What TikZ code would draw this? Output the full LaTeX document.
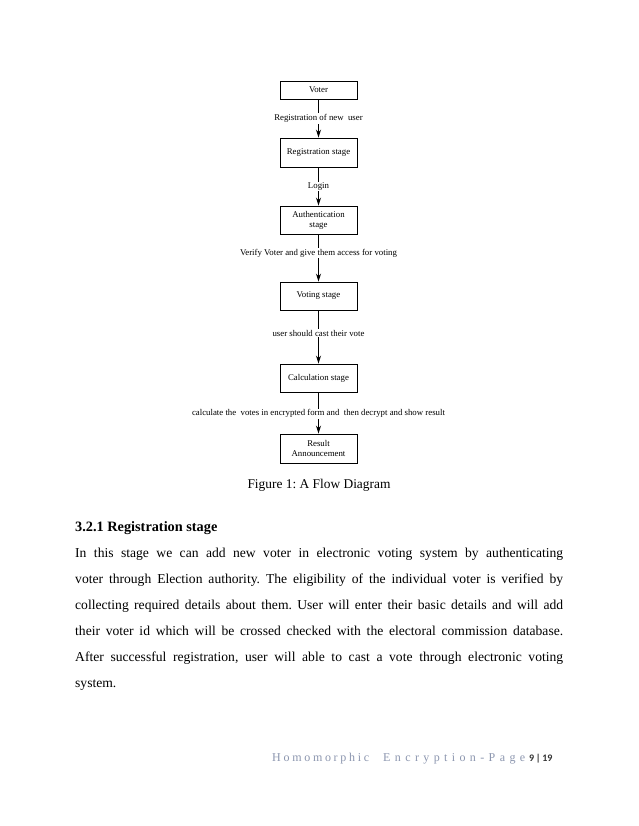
\documentclass[tikz,border=0pt]{standalone}
\usepackage{fontspec}
\setmainfont{Liberation Serif}
\newfontfamily\flowfont{Liberation Serif}
\newfontfamily\pagefont{Carlito}
\usetikzlibrary{arrows.meta}
\definecolor{footgray}{RGB}{140,150,175}
\newcommand\jline[1]{\hbox to 488pt{#1}}
\frenchspacing
\begin{document}
\begin{tikzpicture}[x=1pt,y=-1pt,
  stagebox/.style={draw,line width=0.9pt,minimum width=77pt,inner sep=1pt,
    font=\flowfont\fontsize{8.8}{10}\selectfont,align=center},
  flowlbl/.style={fill=white,inner sep=1pt,font=\flowfont\fontsize{8.8}{10}\selectfont},
  flowarrow/.style={line width=0.9pt,-{Stealth[length=8pt,width=5pt]}},
  body/.style={anchor=base west,inner sep=0pt,font=\fontsize{13.6}{16}\selectfont}]
\useasboundingbox (0,0) rectangle (638,826);
\fill[white] (0,0) rectangle (638,826);

% flow diagram
\node[stagebox,minimum height=18pt] (voter) at (318.5,90) {Voter};
\node[stagebox,minimum height=29pt] (reg) at (318.5,152.5) {Registration stage};
\node[stagebox,minimum height=28pt] (auth) at (318.5,220) {Authentication\\stage};
\node[stagebox,minimum height=28pt] (vote) at (318.5,296) {Voting stage};
\node[stagebox,minimum height=28pt] (calc) at (318.5,378) {Calculation stage};
\node[stagebox,minimum height=29pt] (res) at (318.5,448.5) {Result\\Announcement};

\draw[flowarrow] (voter) -- node[flowlbl,pos=0.5] (l1) {Registration of new\ \ user} (reg);
\draw[flowarrow] (reg) -- node[flowlbl,pos=0.5] (l2) {Login} (auth);
\draw[flowarrow] (auth) -- node[flowlbl,pos=0.4] (l3) {Verify Voter and give them access for voting} (vote);
\draw[flowarrow] (vote) -- node[flowlbl,pos=0.43] (l4) {user should cast their vote} (calc);
\draw[flowarrow] (calc) -- node[flowlbl,pos=0.52] (l5) {calculate the\ \ votes in encrypted form and\ \ then decrypt and show result} (res);

% caption
\node[anchor=base,inner sep=0pt,font=\fontsize{13.4}{16}\selectfont] (cap) at (319,488) {Figure 1: A Flow Diagram};

% heading and text
\node[body,font=\bfseries\fontsize{14.3}{16}\selectfont] (head) at (75,531) {3.2.1 Registration stage};
\node[body] (p1) at (75,557) {\jline{In this stage we can add new voter in electronic voting system by authenticating}};
\node[body] (p2) at (75,583) {\jline{voter through Election authority. The eligibility of the individual voter is verified by}};
\node[body] (p3) at (75,609) {\jline{collecting required details about them. User will enter their basic details and will add}};
\node[body] (p4) at (75,635) {\jline{their voter id which will be crossed checked with the electoral commission database.}};
\node[body] (p5) at (75,661) {\jline{After successful registration, user will able to cast a vote through electronic voting}};
\node[body] (p6) at (75,687) {system.};

% footer
\node[anchor=base west,inner sep=0pt,font=\fontsize{12}{14}\selectfont] (foot) at (272,761) {\color{footgray}\hbox to 97pt{H\hfil o\hfil m\hfil o\hfil m\hfil o\hfil r\hfil p\hfil h\hfil i\hfil c}\hspace{14pt}\hbox to 142pt{E\hfil n\hfil c\hfil r\hfil y\hfil p\hfil t\hfil i\hfil o\hfil n\hfil -\hfil P\hfil a\hfil g\hfil e}\hspace{4pt}{\pagefont\bfseries\fontsize{10}{12}\selectfont\color{black!80}9\,|\,19}};
\end{tikzpicture}
\end{document}
